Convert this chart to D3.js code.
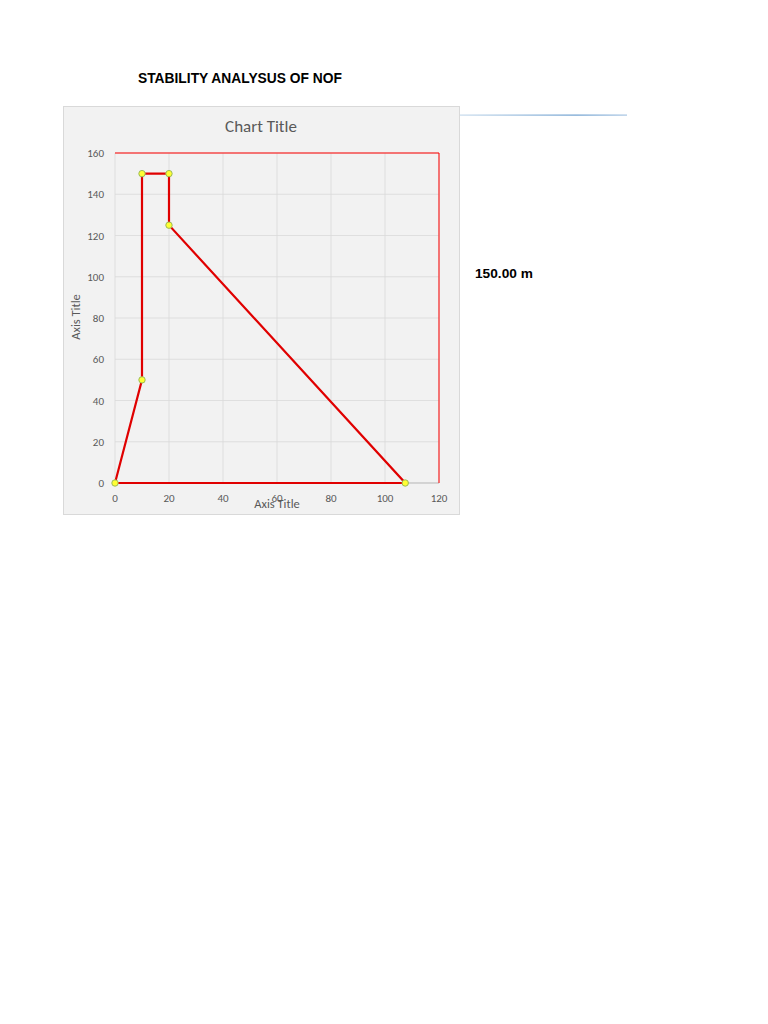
<!DOCTYPE html>
<html><head><meta charset="utf-8">
<script src="https://cdn.jsdelivr.net/npm/d3@7"></script>
<style>body{margin:0;background:#fff;font-family:"Liberation Sans",Arial,sans-serif}</style>
</head><body>
<svg id="c" width="768" height="1024"></svg>
<script>
const xs = [0, 10, 10, 20, 20, 107.5, 0];
const ys = [0, 50, 150, 150, 125, 0, 0];
const frameX = [0, 120, 120];
const frameY = [160, 160, 0];
const xTicks = [0, 20, 40, 60, 80, 100, 120];
const yTicks = [0, 20, 40, 60, 80, 100, 120, 140, 160];

const svg = d3.select("#c");
svg.append("text").attr("x",138).attr("y",83).attr("font-size",13.8).attr("font-weight","bold")
  .attr("fill","#000").text("STABILITY ANALYSUS OF NOF");
svg.append("text").attr("x",475).attr("y",278).attr("font-size",13.7).attr("font-weight","bold")
  .attr("fill","#000").text("150.00 m");
const grad = svg.append("defs").append("linearGradient").attr("id","bl");
grad.append("stop").attr("offset","0").attr("stop-color","#c9dced");
grad.append("stop").attr("offset","0.7").attr("stop-color","#6d9fcf");
grad.append("stop").attr("offset","1").attr("stop-color","#a9c6e3");
svg.append("rect").attr("x",459).attr("y",114.5).attr("width",168).attr("height",1.2).attr("fill","url(#bl)");

svg.append("rect").attr("x",63.5).attr("y",106.5).attr("width",396).attr("height",408)
  .attr("fill","#f2f2f2").attr("stroke","#d9d9d9");
const tf = "Carlito, 'Open Sans', sans-serif";
svg.append("text").attr("x",261).attr("y",132).attr("text-anchor","middle").attr("font-family",tf)
  .attr("font-size",17).attr("fill","#595959").text("Chart Title");

const x = d3.scaleLinear().domain([0,120]).range([115,439]);
const y = d3.scaleLinear().domain([0,160]).range([483,153]);
const g = svg.append("g");
g.selectAll(".gx").data(xTicks).join("line").attr("x1",d=>x(d)).attr("x2",d=>x(d)).attr("y1",y(0)).attr("y2",y(160))
  .attr("stroke","#d9d9d9").attr("stroke-width",0.8);
g.selectAll(".gy").data(yTicks).join("line").attr("y1",d=>y(d)).attr("y2",d=>y(d)).attr("x1",x(0)).attr("x2",x(120))
  .attr("stroke","#d9d9d9").attr("stroke-width",0.8);
g.append("line").attr("x1",x(0)).attr("x2",x(120)).attr("y1",y(0)).attr("y2",y(0)).attr("stroke","#bfbfbf");

g.selectAll(".tx").data(xTicks).join("text").attr("x",d=>x(d)).attr("y",502).attr("text-anchor","middle")
  .attr("font-family",tf).attr("font-size",11).attr("fill","#595959").text(d=>d);
g.selectAll(".ty").data(yTicks).join("text").attr("x",104).attr("y",d=>y(d)+4).attr("text-anchor","end")
  .attr("font-family",tf).attr("font-size",11).attr("fill","#595959").text(d=>d);
svg.append("text").attr("x",277).attr("y",508).attr("text-anchor","middle").attr("font-family",tf)
  .attr("font-size",12.5).attr("fill","#595959").text("Axis Title");
svg.append("text").attr("transform","translate(80,317) rotate(-90)").attr("text-anchor","middle").attr("font-family",tf)
  .attr("font-size",12.5).attr("fill","#595959").text("Axis Title");

const line = d3.line().x(d=>x(d[0])).y(d=>y(d[1]));
g.append("path").attr("d",line(frameX.map((v,i)=>[v,frameY[i]]))).attr("fill","none").attr("stroke","#ff0000").attr("stroke-width",1);
const pts = xs.map((v,i)=>[v,ys[i]]);
g.append("path").attr("d",line(pts)).attr("fill","none").attr("stroke","#e00000").attr("stroke-width",2.2);
g.selectAll(".m").data(pts.slice(0,6)).join("circle").attr("cx",d=>x(d[0])).attr("cy",d=>y(d[1])).attr("r",3.2)
  .attr("fill","#ffff33").attr("stroke","#9bbb59").attr("stroke-width",1);
</script>
</body></html>
